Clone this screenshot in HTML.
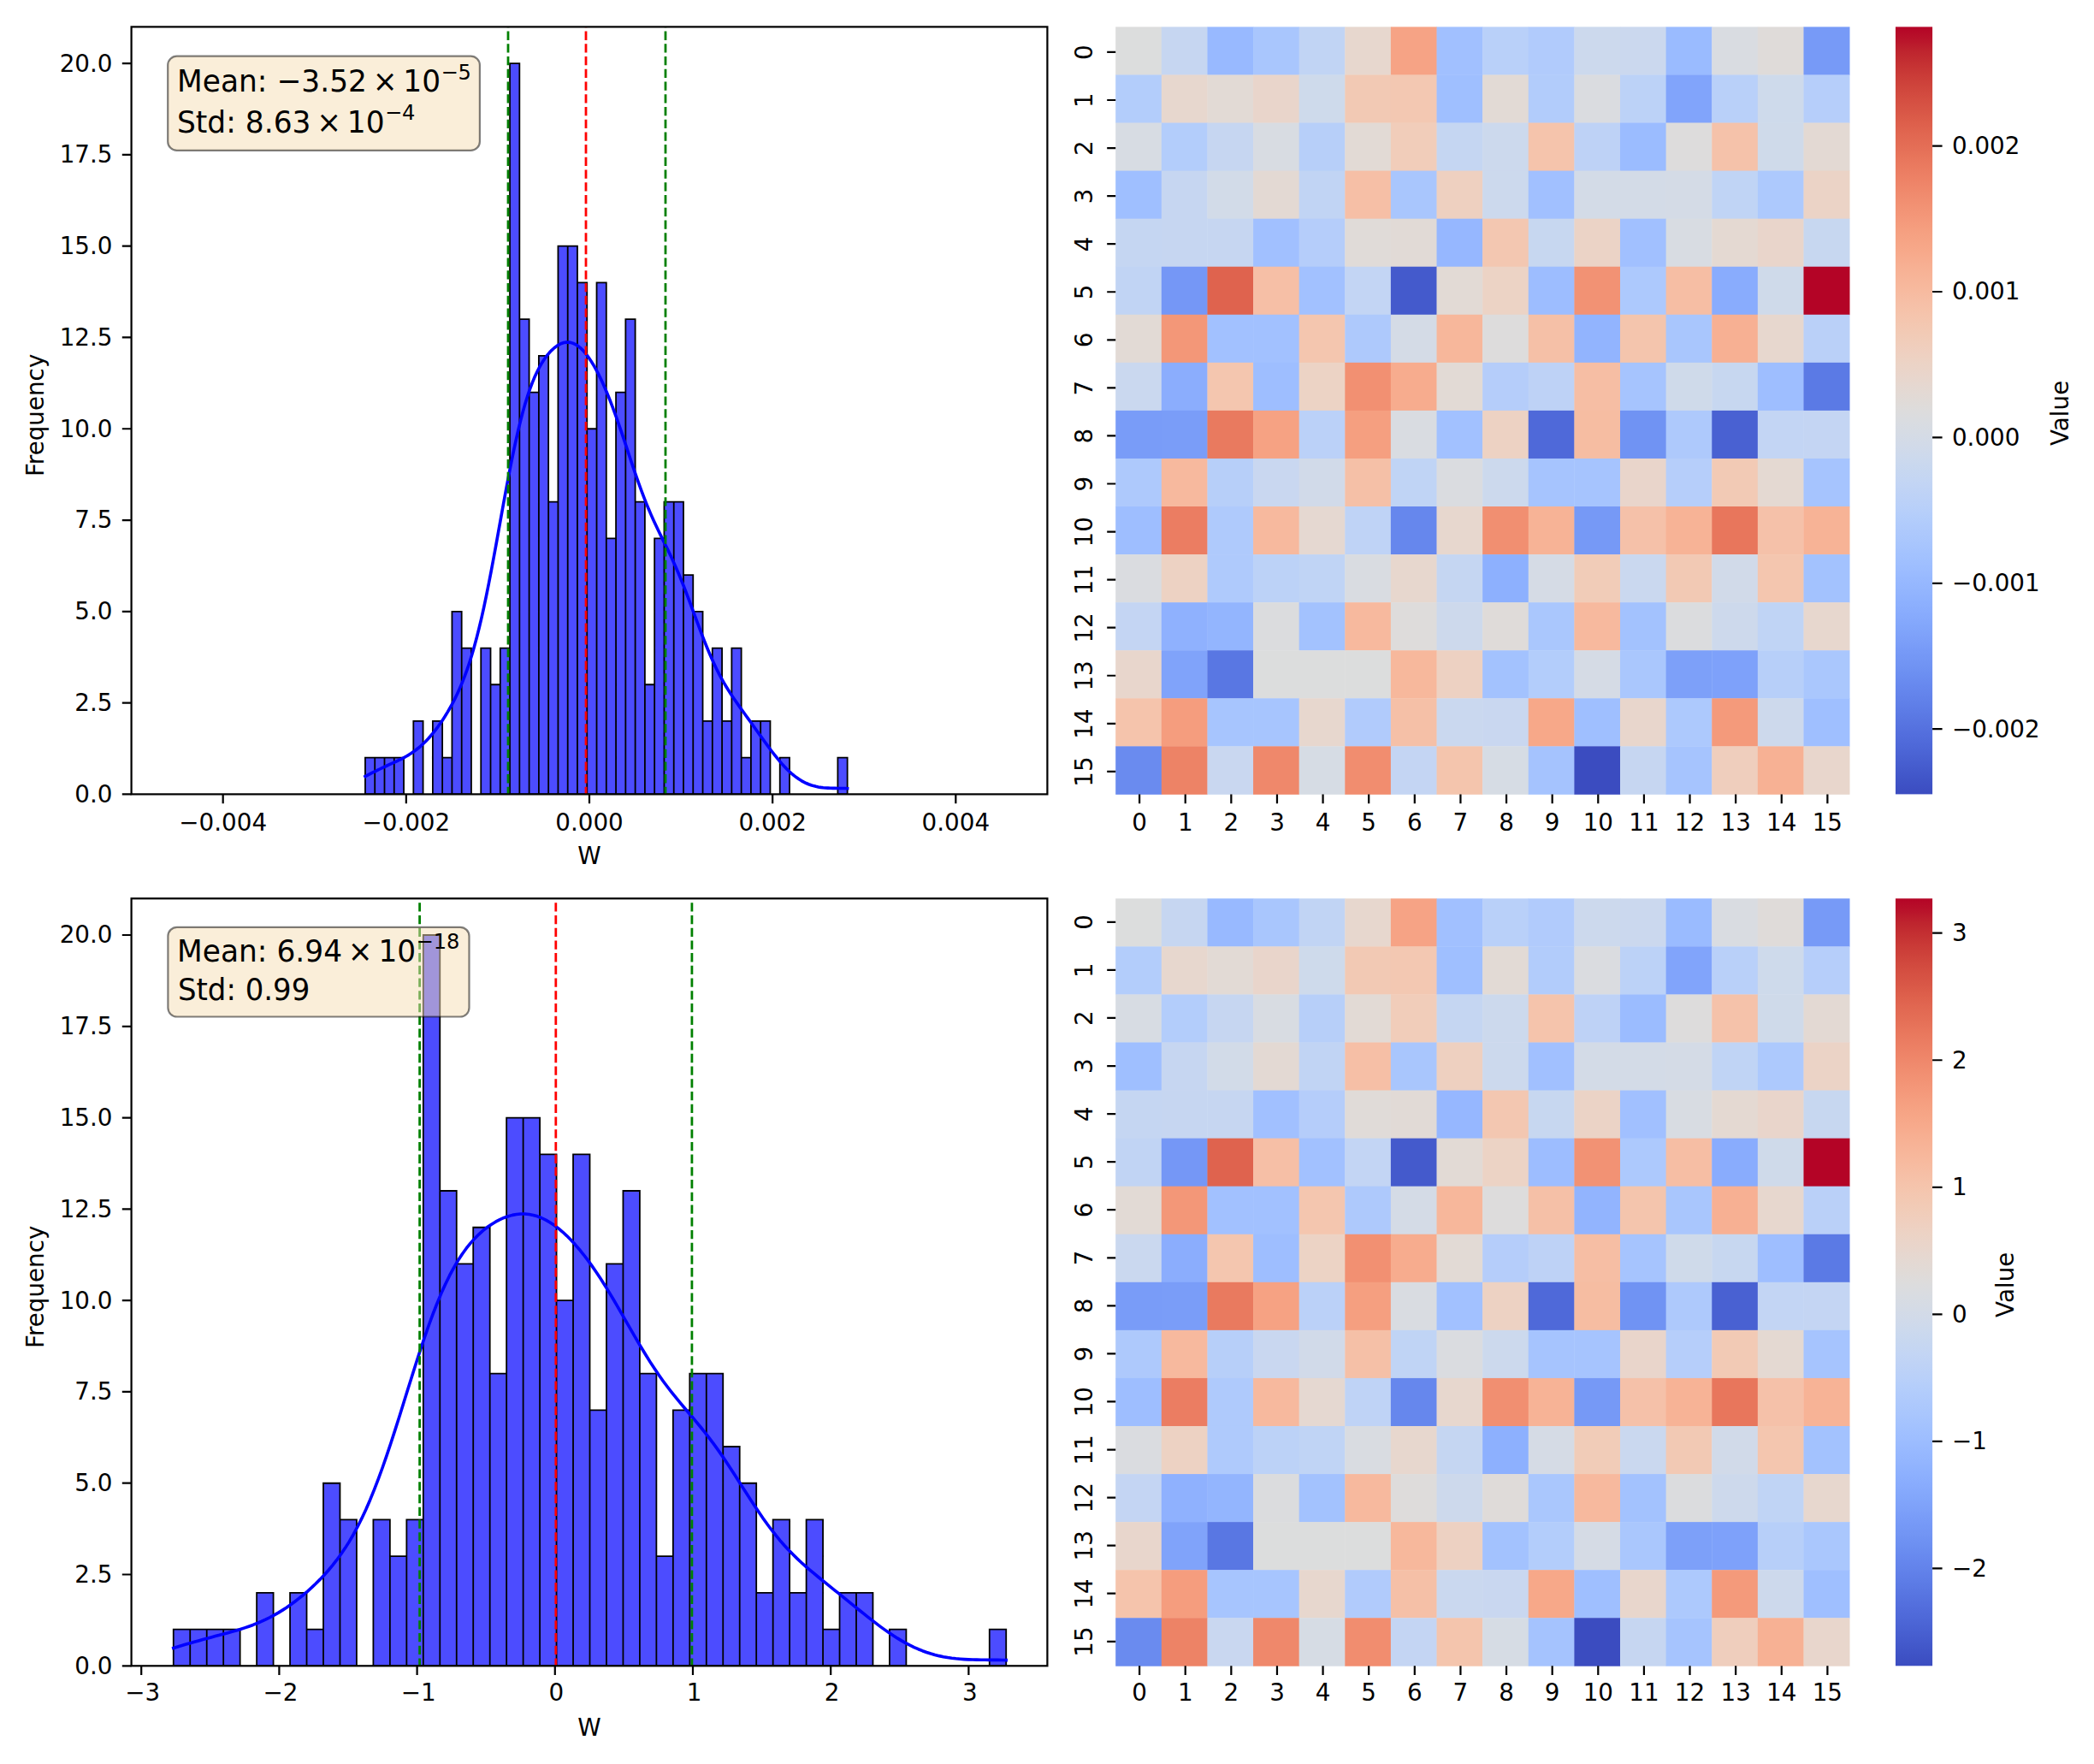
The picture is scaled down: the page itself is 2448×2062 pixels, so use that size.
<!DOCTYPE html>
<html><head><meta charset="utf-8"><title>W distribution</title><style>html,body{margin:0;padding:0;background:#fff;overflow:hidden}svg{display:block}</style></head><body>
<svg width="2448" height="2062" viewBox="0 0 2448 2062">
<style>text{font-family:'DejaVu Sans', sans-serif;fill:#000}</style>
<rect x="0" y="0" width="2448" height="2062" fill="#fff"/>
<defs><linearGradient id="cw" x1="0" y1="1" x2="0" y2="0"><stop offset="0.0000" stop-color="#3b4cc0"/><stop offset="0.0156" stop-color="#3f53c6"/><stop offset="0.0312" stop-color="#445acc"/><stop offset="0.0469" stop-color="#4961d2"/><stop offset="0.0625" stop-color="#4e68d8"/><stop offset="0.0781" stop-color="#536edd"/><stop offset="0.0938" stop-color="#5875e1"/><stop offset="0.1094" stop-color="#5d7ce6"/><stop offset="0.1250" stop-color="#6282ea"/><stop offset="0.1406" stop-color="#6788ee"/><stop offset="0.1562" stop-color="#6c8ff1"/><stop offset="0.1719" stop-color="#7295f4"/><stop offset="0.1875" stop-color="#779af7"/><stop offset="0.2031" stop-color="#7da0f9"/><stop offset="0.2188" stop-color="#82a6fb"/><stop offset="0.2344" stop-color="#88abfd"/><stop offset="0.2500" stop-color="#8db0fe"/><stop offset="0.2656" stop-color="#93b5fe"/><stop offset="0.2812" stop-color="#98b9ff"/><stop offset="0.2969" stop-color="#9ebeff"/><stop offset="0.3125" stop-color="#a3c2fe"/><stop offset="0.3281" stop-color="#a9c6fd"/><stop offset="0.3438" stop-color="#aec9fc"/><stop offset="0.3594" stop-color="#b3cdfb"/><stop offset="0.3750" stop-color="#b9d0f9"/><stop offset="0.3906" stop-color="#bed2f6"/><stop offset="0.4062" stop-color="#c3d5f4"/><stop offset="0.4219" stop-color="#c7d7f0"/><stop offset="0.4375" stop-color="#ccd9ed"/><stop offset="0.4531" stop-color="#d1dae9"/><stop offset="0.4688" stop-color="#d5dbe5"/><stop offset="0.4844" stop-color="#d9dce1"/><stop offset="0.5000" stop-color="#dddcdc"/><stop offset="0.5156" stop-color="#e1dad6"/><stop offset="0.5312" stop-color="#e5d8d1"/><stop offset="0.5469" stop-color="#e9d5cb"/><stop offset="0.5625" stop-color="#ecd3c5"/><stop offset="0.5781" stop-color="#efcfbf"/><stop offset="0.5938" stop-color="#f1ccb8"/><stop offset="0.6094" stop-color="#f3c8b2"/><stop offset="0.6250" stop-color="#f5c4ac"/><stop offset="0.6406" stop-color="#f6bfa6"/><stop offset="0.6562" stop-color="#f7ba9f"/><stop offset="0.6719" stop-color="#f7b599"/><stop offset="0.6875" stop-color="#f7b093"/><stop offset="0.7031" stop-color="#f7aa8c"/><stop offset="0.7188" stop-color="#f6a586"/><stop offset="0.7344" stop-color="#f59f80"/><stop offset="0.7500" stop-color="#f4987a"/><stop offset="0.7656" stop-color="#f29274"/><stop offset="0.7812" stop-color="#f08b6e"/><stop offset="0.7969" stop-color="#ee8468"/><stop offset="0.8125" stop-color="#eb7d62"/><stop offset="0.8281" stop-color="#e8765c"/><stop offset="0.8438" stop-color="#e46e56"/><stop offset="0.8594" stop-color="#e16751"/><stop offset="0.8750" stop-color="#dd5f4b"/><stop offset="0.8906" stop-color="#d85646"/><stop offset="0.9062" stop-color="#d44e41"/><stop offset="0.9219" stop-color="#cf453c"/><stop offset="0.9375" stop-color="#ca3b37"/><stop offset="0.9531" stop-color="#c43032"/><stop offset="0.9688" stop-color="#be242e"/><stop offset="0.9844" stop-color="#b8122a"/><stop offset="1.0000" stop-color="#b40426"/></linearGradient></defs>
<g id="hist0">
<clipPath id="clip0"><rect x="153.6" y="31.4" width="1070.8000000000002" height="897.0"/></clipPath>
<g clip-path="url(#clip0)">
<path d="M426.95 928.4V885.69H438.22V928.4ZM438.22 928.4V885.69H449.5V928.4ZM449.5 928.4V885.69H460.77V928.4ZM460.77 928.4V885.69H472.05V928.4ZM483.32 928.4V842.97H494.59V928.4ZM505.87 928.4V842.97H517.14V928.4ZM517.14 928.4V885.69H528.42V928.4ZM528.42 928.4V714.83H539.69V928.4ZM539.69 928.4V757.54H550.96V928.4ZM562.24 928.4V757.54H573.51V928.4ZM573.51 928.4V800.26H584.79V928.4ZM584.79 928.4V757.54H596.06V928.4ZM596.06 928.4V74.11H607.33V928.4ZM607.33 928.4V373.11H618.61V928.4ZM618.61 928.4V458.54H629.88V928.4ZM629.88 928.4V415.83H641.16V928.4ZM641.16 928.4V586.69H652.43V928.4ZM652.43 928.4V287.69H663.7V928.4ZM663.7 928.4V287.69H674.98V928.4ZM674.98 928.4V330.4H686.25V928.4ZM686.25 928.4V501.26H697.53V928.4ZM697.53 928.4V330.4H708.8V928.4ZM708.8 928.4V629.4H720.07V928.4ZM720.07 928.4V458.54H731.35V928.4ZM731.35 928.4V373.11H742.62V928.4ZM742.62 928.4V586.69H753.9V928.4ZM753.9 928.4V800.26H765.17V928.4ZM765.17 928.4V629.4H776.44V928.4ZM776.44 928.4V586.69H787.72V928.4ZM787.72 928.4V586.69H798.99V928.4ZM798.99 928.4V672.11H810.27V928.4ZM810.27 928.4V714.83H821.54V928.4ZM821.54 928.4V842.97H832.81V928.4ZM832.81 928.4V757.54H844.09V928.4ZM844.09 928.4V842.97H855.36V928.4ZM855.36 928.4V757.54H866.64V928.4ZM866.64 928.4V885.69H877.91V928.4ZM877.91 928.4V842.97H889.18V928.4ZM889.18 928.4V842.97H900.46V928.4ZM911.73 928.4V885.69H923.01V928.4ZM979.38 928.4V885.69H990.65V928.4Z" fill="#0000ff" fill-opacity="0.7" stroke="#000" stroke-width="1.8" stroke-linejoin="miter"/>
<polyline points="426.95,907.57 429.78,906.1 432.61,904.65 435.45,903.2 438.28,901.78 441.11,900.37 443.95,899 446.78,897.64 449.61,896.31 452.44,895.01 455.28,893.71 458.11,892.42 460.94,891.12 463.77,889.8 466.61,888.44 469.44,887.04 472.27,885.56 475.1,884 477.94,882.33 480.77,880.54 483.6,878.61 486.44,876.53 489.27,874.28 492.1,871.86 494.93,869.25 497.77,866.46 500.6,863.47 503.43,860.28 506.26,856.9 509.1,853.33 511.93,849.55 514.76,845.58 517.59,841.4 520.43,837 523.26,832.37 526.09,827.49 528.93,822.34 531.76,816.87 534.59,811.04 537.42,804.82 540.26,798.14 543.09,790.95 545.92,783.2 548.75,774.83 551.59,765.79 554.42,756.03 557.25,745.54 560.08,734.29 562.92,722.29 565.75,709.54 568.58,696.1 571.42,682.01 574.25,667.37 577.08,652.27 579.91,636.83 582.75,621.17 585.58,605.44 588.41,589.78 591.24,574.33 594.08,559.23 596.91,544.61 599.74,530.59 602.57,517.26 605.41,504.7 608.24,492.96 611.07,482.08 613.91,472.07 616.74,462.92 619.57,454.6 622.4,447.08 625.24,440.31 628.07,434.22 630.9,428.77 633.73,423.9 636.57,419.55 639.4,415.69 642.23,412.28 645.06,409.3 647.9,406.72 650.73,404.56 653.56,402.81 656.4,401.48 659.23,400.58 662.06,400.12 664.89,400.12 667.73,400.59 670.56,401.53 673.39,402.95 676.22,404.85 679.06,407.21 681.89,410.04 684.72,413.31 687.55,417.02 690.39,421.15 693.22,425.68 696.05,430.6 698.89,435.9 701.72,441.58 704.55,447.61 707.38,454 710.22,460.73 713.05,467.79 715.88,475.15 718.71,482.81 721.55,490.73 724.38,498.87 727.21,507.19 730.05,515.65 732.88,524.18 735.71,532.73 738.54,541.24 741.38,549.64 744.21,557.88 747.04,565.91 749.87,573.69 752.71,581.19 755.54,588.39 758.37,595.29 761.2,601.89 764.04,608.23 766.87,614.34 769.7,620.28 772.54,626.09 775.37,631.84 778.2,637.58 781.03,643.4 783.87,649.33 786.7,655.42 789.53,661.72 792.36,668.24 795.2,675 798.03,681.99 800.86,689.2 803.69,696.59 806.53,704.13 809.36,711.77 812.19,719.45 815.03,727.11 817.86,734.7 820.69,742.16 823.52,749.45 826.36,756.51 829.19,763.31 832.02,769.83 834.85,776.05 837.69,781.96 840.52,787.57 843.35,792.89 846.18,797.93 849.02,802.73 851.85,807.31 854.68,811.71 857.52,815.95 860.35,820.08 863.18,824.11 866.01,828.09 868.85,832.03 871.68,835.95 874.51,839.88 877.34,843.81 880.18,847.75 883.01,851.71 885.84,855.68 888.67,859.65 891.51,863.61 894.34,867.54 897.17,871.43 900.01,875.26 902.84,879.01 905.67,882.67 908.5,886.22 911.34,889.63 914.17,892.9 917,896.01 919.83,898.95 922.67,901.71 925.5,904.27 928.33,906.64 931.16,908.82 934,910.79 936.83,912.56 939.66,914.14 942.5,915.52 945.33,916.73 948.16,917.75 950.99,918.62 953.83,919.33 956.66,919.91 959.49,920.36 962.32,920.71 965.16,920.96 967.99,921.14 970.82,921.26 973.65,921.34 976.49,921.39 979.32,921.43 982.15,921.46 984.99,921.51 987.82,921.57 990.65,921.66" fill="none" stroke="#0000ff" stroke-width="3.6" stroke-linejoin="round" stroke-linecap="square"/>
<path d="M685 928.4V31.4" stroke="#ff0000" stroke-width="2.78" stroke-dasharray="10.28,4.44" stroke-dashoffset="1.7" fill="none"/>
<path d="M594 928.4V31.4" stroke="#008000" stroke-width="2.78" stroke-dasharray="10.28,4.44" stroke-dashoffset="1.7" fill="none"/>
<path d="M778 928.4V31.4" stroke="#008000" stroke-width="2.78" stroke-dasharray="10.28,4.44" stroke-dashoffset="1.7" fill="none"/>
</g>
<rect x="153.6" y="31.4" width="1070.8" height="897" fill="none" stroke="#000" stroke-width="2.22" stroke-linejoin="miter"/>
<text x="260.68" y="971.3" font-size="27.78" text-anchor="middle">−0.004</text>
<text x="474.84" y="971.3" font-size="27.78" text-anchor="middle">−0.002</text>
<text x="689" y="971.3" font-size="27.78" text-anchor="middle">0.000</text>
<text x="903.16" y="971.3" font-size="27.78" text-anchor="middle">0.002</text>
<text x="1117.32" y="971.3" font-size="27.78" text-anchor="middle">0.004</text>
<text x="131.5" y="937.8" font-size="27.78" text-anchor="end">0.0</text>
<text x="131.5" y="831.01" font-size="27.78" text-anchor="end">2.5</text>
<text x="131.5" y="724.23" font-size="27.78" text-anchor="end">5.0</text>
<text x="131.5" y="617.44" font-size="27.78" text-anchor="end">7.5</text>
<text x="131.5" y="510.66" font-size="27.78" text-anchor="end">10.0</text>
<text x="131.5" y="403.87" font-size="27.78" text-anchor="end">12.5</text>
<text x="131.5" y="297.09" font-size="27.78" text-anchor="end">15.0</text>
<text x="131.5" y="190.3" font-size="27.78" text-anchor="end">17.5</text>
<text x="131.5" y="83.51" font-size="27.78" text-anchor="end">20.0</text>
<path d="M260.68 928.4v10.80M474.84 928.4v10.80M689 928.4v10.80M903.16 928.4v10.80M1117.32 928.4v10.80M153.6 928.4h-10.80M153.6 821.61h-10.80M153.6 714.83h-10.80M153.6 608.04h-10.80M153.6 501.26h-10.80M153.6 394.47h-10.80M153.6 287.69h-10.80M153.6 180.9h-10.80M153.6 74.11h-10.80" stroke="#000" stroke-width="2.22" fill="none"/>
<text x="689" y="1010.4" font-size="27.78" text-anchor="middle">W</text>
<text transform="translate(51.2 485.4) rotate(-90)" font-size="27.78" text-anchor="middle">Frequency</text>
</g>
<g id="heat0">
<rect x="1304.2" y="31.4" width="54.02" height="56.46" fill="#dcdddd"/>
<rect x="1357.82" y="31.4" width="54.02" height="56.46" fill="#c6d6f1"/>
<rect x="1411.44" y="31.4" width="54.02" height="56.46" fill="#98b9ff"/>
<rect x="1465.06" y="31.4" width="54.02" height="56.46" fill="#a9c6fd"/>
<rect x="1518.67" y="31.4" width="54.02" height="56.46" fill="#c1d4f4"/>
<rect x="1572.29" y="31.4" width="54.02" height="56.46" fill="#e7d7ce"/>
<rect x="1625.91" y="31.4" width="54.02" height="56.46" fill="#f6a385"/>
<rect x="1679.53" y="31.4" width="54.02" height="56.46" fill="#a1c0ff"/>
<rect x="1733.15" y="31.4" width="54.02" height="56.46" fill="#b9d0f9"/>
<rect x="1786.77" y="31.4" width="54.02" height="56.46" fill="#b1cbfc"/>
<rect x="1840.39" y="31.4" width="54.02" height="56.46" fill="#ccd9ed"/>
<rect x="1894.01" y="31.4" width="54.02" height="56.46" fill="#cbd8ee"/>
<rect x="1947.62" y="31.4" width="54.02" height="56.46" fill="#9abbff"/>
<rect x="2001.24" y="31.4" width="54.02" height="56.46" fill="#d9dce1"/>
<rect x="2054.86" y="31.4" width="54.02" height="56.46" fill="#dfdbd9"/>
<rect x="2108.48" y="31.4" width="54.02" height="56.46" fill="#779af7"/>
<rect x="1304.2" y="87.46" width="54.02" height="56.46" fill="#b3cdfb"/>
<rect x="1357.82" y="87.46" width="54.02" height="56.46" fill="#e7d7ce"/>
<rect x="1411.44" y="87.46" width="54.02" height="56.46" fill="#e2dad5"/>
<rect x="1465.06" y="87.46" width="54.02" height="56.46" fill="#e9d5cb"/>
<rect x="1518.67" y="87.46" width="54.02" height="56.46" fill="#cedaeb"/>
<rect x="1572.29" y="87.46" width="54.02" height="56.46" fill="#f2c9b4"/>
<rect x="1625.91" y="87.46" width="54.02" height="56.46" fill="#f3c8b2"/>
<rect x="1679.53" y="87.46" width="54.02" height="56.46" fill="#9fbfff"/>
<rect x="1733.15" y="87.46" width="54.02" height="56.46" fill="#e2dad5"/>
<rect x="1786.77" y="87.46" width="54.02" height="56.46" fill="#b2ccfb"/>
<rect x="1840.39" y="87.46" width="54.02" height="56.46" fill="#dadce0"/>
<rect x="1894.01" y="87.46" width="54.02" height="56.46" fill="#bcd2f7"/>
<rect x="1947.62" y="87.46" width="54.02" height="56.46" fill="#81a4fb"/>
<rect x="2001.24" y="87.46" width="54.02" height="56.46" fill="#b9d0f9"/>
<rect x="2054.86" y="87.46" width="54.02" height="56.46" fill="#cedaeb"/>
<rect x="2108.48" y="87.46" width="54.02" height="56.46" fill="#b6cefa"/>
<rect x="1304.2" y="143.53" width="54.02" height="56.46" fill="#d7dce3"/>
<rect x="1357.82" y="143.53" width="54.02" height="56.46" fill="#b3cdfb"/>
<rect x="1411.44" y="143.53" width="54.02" height="56.46" fill="#c6d6f1"/>
<rect x="1465.06" y="143.53" width="54.02" height="56.46" fill="#d8dce2"/>
<rect x="1518.67" y="143.53" width="54.02" height="56.46" fill="#b7cff9"/>
<rect x="1572.29" y="143.53" width="54.02" height="56.46" fill="#e2dad5"/>
<rect x="1625.91" y="143.53" width="54.02" height="56.46" fill="#f1cdba"/>
<rect x="1679.53" y="143.53" width="54.02" height="56.46" fill="#c5d6f2"/>
<rect x="1733.15" y="143.53" width="54.02" height="56.46" fill="#ccd9ed"/>
<rect x="1786.77" y="143.53" width="54.02" height="56.46" fill="#f5c4ac"/>
<rect x="1840.39" y="143.53" width="54.02" height="56.46" fill="#bed2f6"/>
<rect x="1894.01" y="143.53" width="54.02" height="56.46" fill="#9bbcff"/>
<rect x="1947.62" y="143.53" width="54.02" height="56.46" fill="#dddcdc"/>
<rect x="2001.24" y="143.53" width="54.02" height="56.46" fill="#f5c2aa"/>
<rect x="2054.86" y="143.53" width="54.02" height="56.46" fill="#cfdaea"/>
<rect x="2108.48" y="143.53" width="54.02" height="56.46" fill="#e3d9d3"/>
<rect x="1304.2" y="199.59" width="54.02" height="56.46" fill="#9fbfff"/>
<rect x="1357.82" y="199.59" width="54.02" height="56.46" fill="#c6d6f1"/>
<rect x="1411.44" y="199.59" width="54.02" height="56.46" fill="#d2dbe8"/>
<rect x="1465.06" y="199.59" width="54.02" height="56.46" fill="#e3d9d3"/>
<rect x="1518.67" y="199.59" width="54.02" height="56.46" fill="#c1d4f4"/>
<rect x="1572.29" y="199.59" width="54.02" height="56.46" fill="#f6bfa6"/>
<rect x="1625.91" y="199.59" width="54.02" height="56.46" fill="#a9c6fd"/>
<rect x="1679.53" y="199.59" width="54.02" height="56.46" fill="#eed0c0"/>
<rect x="1733.15" y="199.59" width="54.02" height="56.46" fill="#ccd9ed"/>
<rect x="1786.77" y="199.59" width="54.02" height="56.46" fill="#a1c0ff"/>
<rect x="1840.39" y="199.59" width="54.02" height="56.46" fill="#d3dbe7"/>
<rect x="1894.01" y="199.59" width="54.02" height="56.46" fill="#d3dbe7"/>
<rect x="1947.62" y="199.59" width="54.02" height="56.46" fill="#d4dbe6"/>
<rect x="2001.24" y="199.59" width="54.02" height="56.46" fill="#c0d4f5"/>
<rect x="2054.86" y="199.59" width="54.02" height="56.46" fill="#adc9fd"/>
<rect x="2108.48" y="199.59" width="54.02" height="56.46" fill="#ebd3c6"/>
<rect x="1304.2" y="255.65" width="54.02" height="56.46" fill="#c5d6f2"/>
<rect x="1357.82" y="255.65" width="54.02" height="56.46" fill="#c6d6f1"/>
<rect x="1411.44" y="255.65" width="54.02" height="56.46" fill="#c6d6f1"/>
<rect x="1465.06" y="255.65" width="54.02" height="56.46" fill="#a1c0ff"/>
<rect x="1518.67" y="255.65" width="54.02" height="56.46" fill="#b5cdfa"/>
<rect x="1572.29" y="255.65" width="54.02" height="56.46" fill="#e0dbd8"/>
<rect x="1625.91" y="255.65" width="54.02" height="56.46" fill="#e1dad6"/>
<rect x="1679.53" y="255.65" width="54.02" height="56.46" fill="#96b7ff"/>
<rect x="1733.15" y="255.65" width="54.02" height="56.46" fill="#f3c7b1"/>
<rect x="1786.77" y="255.65" width="54.02" height="56.46" fill="#c7d7f0"/>
<rect x="1840.39" y="255.65" width="54.02" height="56.46" fill="#ebd3c6"/>
<rect x="1894.01" y="255.65" width="54.02" height="56.46" fill="#a1c0ff"/>
<rect x="1947.62" y="255.65" width="54.02" height="56.46" fill="#d8dce2"/>
<rect x="2001.24" y="255.65" width="54.02" height="56.46" fill="#e4d9d2"/>
<rect x="2054.86" y="255.65" width="54.02" height="56.46" fill="#e9d5cb"/>
<rect x="2108.48" y="255.65" width="54.02" height="56.46" fill="#c7d7f0"/>
<rect x="1304.2" y="311.71" width="54.02" height="56.46" fill="#c1d4f4"/>
<rect x="1357.82" y="311.71" width="54.02" height="56.46" fill="#7597f6"/>
<rect x="1411.44" y="311.71" width="54.02" height="56.46" fill="#df634e"/>
<rect x="1465.06" y="311.71" width="54.02" height="56.46" fill="#f6bfa6"/>
<rect x="1518.67" y="311.71" width="54.02" height="56.46" fill="#a2c1ff"/>
<rect x="1572.29" y="311.71" width="54.02" height="56.46" fill="#c3d5f4"/>
<rect x="1625.91" y="311.71" width="54.02" height="56.46" fill="#445acc"/>
<rect x="1679.53" y="311.71" width="54.02" height="56.46" fill="#e2dad5"/>
<rect x="1733.15" y="311.71" width="54.02" height="56.46" fill="#ecd3c5"/>
<rect x="1786.77" y="311.71" width="54.02" height="56.46" fill="#9dbdff"/>
<rect x="1840.39" y="311.71" width="54.02" height="56.46" fill="#f29274"/>
<rect x="1894.01" y="311.71" width="54.02" height="56.46" fill="#adc9fd"/>
<rect x="1947.62" y="311.71" width="54.02" height="56.46" fill="#f6bea4"/>
<rect x="2001.24" y="311.71" width="54.02" height="56.46" fill="#89acfd"/>
<rect x="2054.86" y="311.71" width="54.02" height="56.46" fill="#cfdaea"/>
<rect x="2108.48" y="311.71" width="54.02" height="56.46" fill="#b40426"/>
<rect x="1304.2" y="367.77" width="54.02" height="56.46" fill="#e2dad5"/>
<rect x="1357.82" y="367.77" width="54.02" height="56.46" fill="#f39778"/>
<rect x="1411.44" y="367.77" width="54.02" height="56.46" fill="#a2c1ff"/>
<rect x="1465.06" y="367.77" width="54.02" height="56.46" fill="#a2c1ff"/>
<rect x="1518.67" y="367.77" width="54.02" height="56.46" fill="#f4c6af"/>
<rect x="1572.29" y="367.77" width="54.02" height="56.46" fill="#aec9fc"/>
<rect x="1625.91" y="367.77" width="54.02" height="56.46" fill="#d4dbe6"/>
<rect x="1679.53" y="367.77" width="54.02" height="56.46" fill="#f7b79b"/>
<rect x="1733.15" y="367.77" width="54.02" height="56.46" fill="#dddcdc"/>
<rect x="1786.77" y="367.77" width="54.02" height="56.46" fill="#f5c0a7"/>
<rect x="1840.39" y="367.77" width="54.02" height="56.46" fill="#92b4fe"/>
<rect x="1894.01" y="367.77" width="54.02" height="56.46" fill="#f4c5ad"/>
<rect x="1947.62" y="367.77" width="54.02" height="56.46" fill="#a9c6fd"/>
<rect x="2001.24" y="367.77" width="54.02" height="56.46" fill="#f7b093"/>
<rect x="2054.86" y="367.77" width="54.02" height="56.46" fill="#e7d7ce"/>
<rect x="2108.48" y="367.77" width="54.02" height="56.46" fill="#bad0f8"/>
<rect x="1304.2" y="423.84" width="54.02" height="56.46" fill="#cad8ef"/>
<rect x="1357.82" y="423.84" width="54.02" height="56.46" fill="#8badfd"/>
<rect x="1411.44" y="423.84" width="54.02" height="56.46" fill="#f4c6af"/>
<rect x="1465.06" y="423.84" width="54.02" height="56.46" fill="#9ebeff"/>
<rect x="1518.67" y="423.84" width="54.02" height="56.46" fill="#ecd3c5"/>
<rect x="1572.29" y="423.84" width="54.02" height="56.46" fill="#f29072"/>
<rect x="1625.91" y="423.84" width="54.02" height="56.46" fill="#f7ac8e"/>
<rect x="1679.53" y="423.84" width="54.02" height="56.46" fill="#e2dad5"/>
<rect x="1733.15" y="423.84" width="54.02" height="56.46" fill="#b5cdfa"/>
<rect x="1786.77" y="423.84" width="54.02" height="56.46" fill="#bed2f6"/>
<rect x="1840.39" y="423.84" width="54.02" height="56.46" fill="#f6bea4"/>
<rect x="1894.01" y="423.84" width="54.02" height="56.46" fill="#a6c4fe"/>
<rect x="1947.62" y="423.84" width="54.02" height="56.46" fill="#cfdaea"/>
<rect x="2001.24" y="423.84" width="54.02" height="56.46" fill="#c7d7f0"/>
<rect x="2054.86" y="423.84" width="54.02" height="56.46" fill="#9ebeff"/>
<rect x="2108.48" y="423.84" width="54.02" height="56.46" fill="#5b7ae5"/>
<rect x="1304.2" y="479.9" width="54.02" height="56.46" fill="#799cf8"/>
<rect x="1357.82" y="479.9" width="54.02" height="56.46" fill="#7a9df8"/>
<rect x="1411.44" y="479.9" width="54.02" height="56.46" fill="#e97a5f"/>
<rect x="1465.06" y="479.9" width="54.02" height="56.46" fill="#f6a283"/>
<rect x="1518.67" y="479.9" width="54.02" height="56.46" fill="#bbd1f8"/>
<rect x="1572.29" y="479.9" width="54.02" height="56.46" fill="#f59f80"/>
<rect x="1625.91" y="479.9" width="54.02" height="56.46" fill="#d9dce1"/>
<rect x="1679.53" y="479.9" width="54.02" height="56.46" fill="#a2c1ff"/>
<rect x="1733.15" y="479.9" width="54.02" height="56.46" fill="#edd2c3"/>
<rect x="1786.77" y="479.9" width="54.02" height="56.46" fill="#4f69d9"/>
<rect x="1840.39" y="479.9" width="54.02" height="56.46" fill="#f6bda2"/>
<rect x="1894.01" y="479.9" width="54.02" height="56.46" fill="#7093f3"/>
<rect x="1947.62" y="479.9" width="54.02" height="56.46" fill="#aec9fc"/>
<rect x="2001.24" y="479.9" width="54.02" height="56.46" fill="#4961d2"/>
<rect x="2054.86" y="479.9" width="54.02" height="56.46" fill="#c3d5f4"/>
<rect x="2108.48" y="479.9" width="54.02" height="56.46" fill="#c4d5f3"/>
<rect x="1304.2" y="535.96" width="54.02" height="56.46" fill="#aec9fc"/>
<rect x="1357.82" y="535.96" width="54.02" height="56.46" fill="#f7b99e"/>
<rect x="1411.44" y="535.96" width="54.02" height="56.46" fill="#b7cff9"/>
<rect x="1465.06" y="535.96" width="54.02" height="56.46" fill="#c9d7f0"/>
<rect x="1518.67" y="535.96" width="54.02" height="56.46" fill="#d1dae9"/>
<rect x="1572.29" y="535.96" width="54.02" height="56.46" fill="#f5c0a7"/>
<rect x="1625.91" y="535.96" width="54.02" height="56.46" fill="#c0d4f5"/>
<rect x="1679.53" y="535.96" width="54.02" height="56.46" fill="#dadce0"/>
<rect x="1733.15" y="535.96" width="54.02" height="56.46" fill="#ccd9ed"/>
<rect x="1786.77" y="535.96" width="54.02" height="56.46" fill="#a6c4fe"/>
<rect x="1840.39" y="535.96" width="54.02" height="56.46" fill="#a6c4fe"/>
<rect x="1894.01" y="535.96" width="54.02" height="56.46" fill="#e9d5cb"/>
<rect x="1947.62" y="535.96" width="54.02" height="56.46" fill="#b6cefa"/>
<rect x="2001.24" y="535.96" width="54.02" height="56.46" fill="#f2cab5"/>
<rect x="2054.86" y="535.96" width="54.02" height="56.46" fill="#e4d9d2"/>
<rect x="2108.48" y="535.96" width="54.02" height="56.46" fill="#a6c4fe"/>
<rect x="1304.2" y="592.02" width="54.02" height="56.46" fill="#9ebeff"/>
<rect x="1357.82" y="592.02" width="54.02" height="56.46" fill="#eb7d62"/>
<rect x="1411.44" y="592.02" width="54.02" height="56.46" fill="#afcafc"/>
<rect x="1465.06" y="592.02" width="54.02" height="56.46" fill="#f7b99e"/>
<rect x="1518.67" y="592.02" width="54.02" height="56.46" fill="#e5d8d1"/>
<rect x="1572.29" y="592.02" width="54.02" height="56.46" fill="#bfd3f6"/>
<rect x="1625.91" y="592.02" width="54.02" height="56.46" fill="#6687ed"/>
<rect x="1679.53" y="592.02" width="54.02" height="56.46" fill="#e7d7ce"/>
<rect x="1733.15" y="592.02" width="54.02" height="56.46" fill="#f18f71"/>
<rect x="1786.77" y="592.02" width="54.02" height="56.46" fill="#f7b396"/>
<rect x="1840.39" y="592.02" width="54.02" height="56.46" fill="#7699f6"/>
<rect x="1894.01" y="592.02" width="54.02" height="56.46" fill="#f5c1a9"/>
<rect x="1947.62" y="592.02" width="54.02" height="56.46" fill="#f7b396"/>
<rect x="2001.24" y="592.02" width="54.02" height="56.46" fill="#e8765c"/>
<rect x="2054.86" y="592.02" width="54.02" height="56.46" fill="#f5c1a9"/>
<rect x="2108.48" y="592.02" width="54.02" height="56.46" fill="#f7b396"/>
<rect x="1304.2" y="648.09" width="54.02" height="56.46" fill="#dadce0"/>
<rect x="1357.82" y="648.09" width="54.02" height="56.46" fill="#edd2c3"/>
<rect x="1411.44" y="648.09" width="54.02" height="56.46" fill="#afcafc"/>
<rect x="1465.06" y="648.09" width="54.02" height="56.46" fill="#bcd2f7"/>
<rect x="1518.67" y="648.09" width="54.02" height="56.46" fill="#c0d4f5"/>
<rect x="1572.29" y="648.09" width="54.02" height="56.46" fill="#d9dce1"/>
<rect x="1625.91" y="648.09" width="54.02" height="56.46" fill="#e7d7ce"/>
<rect x="1679.53" y="648.09" width="54.02" height="56.46" fill="#c5d6f2"/>
<rect x="1733.15" y="648.09" width="54.02" height="56.46" fill="#8db0fe"/>
<rect x="1786.77" y="648.09" width="54.02" height="56.46" fill="#d5dbe5"/>
<rect x="1840.39" y="648.09" width="54.02" height="56.46" fill="#f1ccb8"/>
<rect x="1894.01" y="648.09" width="54.02" height="56.46" fill="#cad8ef"/>
<rect x="1947.62" y="648.09" width="54.02" height="56.46" fill="#f2c9b4"/>
<rect x="2001.24" y="648.09" width="54.02" height="56.46" fill="#d1dae9"/>
<rect x="2054.86" y="648.09" width="54.02" height="56.46" fill="#f4c6af"/>
<rect x="2108.48" y="648.09" width="54.02" height="56.46" fill="#a3c2fe"/>
<rect x="1304.2" y="704.15" width="54.02" height="56.46" fill="#c4d5f3"/>
<rect x="1357.82" y="704.15" width="54.02" height="56.46" fill="#8fb1fe"/>
<rect x="1411.44" y="704.15" width="54.02" height="56.46" fill="#93b5fe"/>
<rect x="1465.06" y="704.15" width="54.02" height="56.46" fill="#dbdcde"/>
<rect x="1518.67" y="704.15" width="54.02" height="56.46" fill="#a3c2fe"/>
<rect x="1572.29" y="704.15" width="54.02" height="56.46" fill="#f7b99e"/>
<rect x="1625.91" y="704.15" width="54.02" height="56.46" fill="#dedcdb"/>
<rect x="1679.53" y="704.15" width="54.02" height="56.46" fill="#cdd9ec"/>
<rect x="1733.15" y="704.15" width="54.02" height="56.46" fill="#dfdbd9"/>
<rect x="1786.77" y="704.15" width="54.02" height="56.46" fill="#aac7fd"/>
<rect x="1840.39" y="704.15" width="54.02" height="56.46" fill="#f7b99e"/>
<rect x="1894.01" y="704.15" width="54.02" height="56.46" fill="#a3c2fe"/>
<rect x="1947.62" y="704.15" width="54.02" height="56.46" fill="#dbdcde"/>
<rect x="2001.24" y="704.15" width="54.02" height="56.46" fill="#cdd9ec"/>
<rect x="2054.86" y="704.15" width="54.02" height="56.46" fill="#c0d4f5"/>
<rect x="2108.48" y="704.15" width="54.02" height="56.46" fill="#e7d7ce"/>
<rect x="1304.2" y="760.21" width="54.02" height="56.46" fill="#e8d6cc"/>
<rect x="1357.82" y="760.21" width="54.02" height="56.46" fill="#80a3fa"/>
<rect x="1411.44" y="760.21" width="54.02" height="56.46" fill="#5977e3"/>
<rect x="1465.06" y="760.21" width="54.02" height="56.46" fill="#dcdddd"/>
<rect x="1518.67" y="760.21" width="54.02" height="56.46" fill="#dcdddd"/>
<rect x="1572.29" y="760.21" width="54.02" height="56.46" fill="#dcdddd"/>
<rect x="1625.91" y="760.21" width="54.02" height="56.46" fill="#f7b89c"/>
<rect x="1679.53" y="760.21" width="54.02" height="56.46" fill="#edd1c2"/>
<rect x="1733.15" y="760.21" width="54.02" height="56.46" fill="#a3c2fe"/>
<rect x="1786.77" y="760.21" width="54.02" height="56.46" fill="#b3cdfb"/>
<rect x="1840.39" y="760.21" width="54.02" height="56.46" fill="#d5dbe5"/>
<rect x="1894.01" y="760.21" width="54.02" height="56.46" fill="#aac7fd"/>
<rect x="1947.62" y="760.21" width="54.02" height="56.46" fill="#7da0f9"/>
<rect x="2001.24" y="760.21" width="54.02" height="56.46" fill="#7ea1fa"/>
<rect x="2054.86" y="760.21" width="54.02" height="56.46" fill="#b7cff9"/>
<rect x="2108.48" y="760.21" width="54.02" height="56.46" fill="#aac7fd"/>
<rect x="1304.2" y="816.27" width="54.02" height="56.46" fill="#f5c4ac"/>
<rect x="1357.82" y="816.27" width="54.02" height="56.46" fill="#f59d7e"/>
<rect x="1411.44" y="816.27" width="54.02" height="56.46" fill="#a7c5fe"/>
<rect x="1465.06" y="816.27" width="54.02" height="56.46" fill="#a7c5fe"/>
<rect x="1518.67" y="816.27" width="54.02" height="56.46" fill="#e7d7ce"/>
<rect x="1572.29" y="816.27" width="54.02" height="56.46" fill="#b1cbfc"/>
<rect x="1625.91" y="816.27" width="54.02" height="56.46" fill="#f5c0a7"/>
<rect x="1679.53" y="816.27" width="54.02" height="56.46" fill="#cad8ef"/>
<rect x="1733.15" y="816.27" width="54.02" height="56.46" fill="#c9d7f0"/>
<rect x="1786.77" y="816.27" width="54.02" height="56.46" fill="#f7a889"/>
<rect x="1840.39" y="816.27" width="54.02" height="56.46" fill="#9fbfff"/>
<rect x="1894.01" y="816.27" width="54.02" height="56.46" fill="#e8d6cc"/>
<rect x="1947.62" y="816.27" width="54.02" height="56.46" fill="#adc9fd"/>
<rect x="2001.24" y="816.27" width="54.02" height="56.46" fill="#f49a7b"/>
<rect x="2054.86" y="816.27" width="54.02" height="56.46" fill="#cdd9ec"/>
<rect x="2108.48" y="816.27" width="54.02" height="56.46" fill="#9fbfff"/>
<rect x="1304.2" y="872.34" width="54.02" height="56.46" fill="#6a8bef"/>
<rect x="1357.82" y="872.34" width="54.02" height="56.46" fill="#ed8366"/>
<rect x="1411.44" y="872.34" width="54.02" height="56.46" fill="#c9d7f0"/>
<rect x="1465.06" y="872.34" width="54.02" height="56.46" fill="#ef886b"/>
<rect x="1518.67" y="872.34" width="54.02" height="56.46" fill="#d6dce4"/>
<rect x="1572.29" y="872.34" width="54.02" height="56.46" fill="#f18d6f"/>
<rect x="1625.91" y="872.34" width="54.02" height="56.46" fill="#c4d5f3"/>
<rect x="1679.53" y="872.34" width="54.02" height="56.46" fill="#f4c5ad"/>
<rect x="1733.15" y="872.34" width="54.02" height="56.46" fill="#d6dce4"/>
<rect x="1786.77" y="872.34" width="54.02" height="56.46" fill="#a5c3fe"/>
<rect x="1840.39" y="872.34" width="54.02" height="56.46" fill="#3b4cc0"/>
<rect x="1894.01" y="872.34" width="54.02" height="56.46" fill="#c6d6f1"/>
<rect x="1947.62" y="872.34" width="54.02" height="56.46" fill="#a6c4fe"/>
<rect x="2001.24" y="872.34" width="54.02" height="56.46" fill="#efcebd"/>
<rect x="2054.86" y="872.34" width="54.02" height="56.46" fill="#f7b194"/>
<rect x="2108.48" y="872.34" width="54.02" height="56.46" fill="#e8d6cc"/>
<text x="1332.11" y="971.3" font-size="27.78" text-anchor="middle">0</text>
<text x="1385.73" y="971.3" font-size="27.78" text-anchor="middle">1</text>
<text x="1439.35" y="971.3" font-size="27.78" text-anchor="middle">2</text>
<text x="1492.97" y="971.3" font-size="27.78" text-anchor="middle">3</text>
<text x="1546.58" y="971.3" font-size="27.78" text-anchor="middle">4</text>
<text x="1600.2" y="971.3" font-size="27.78" text-anchor="middle">5</text>
<text x="1653.82" y="971.3" font-size="27.78" text-anchor="middle">6</text>
<text x="1707.44" y="971.3" font-size="27.78" text-anchor="middle">7</text>
<text x="1761.06" y="971.3" font-size="27.78" text-anchor="middle">8</text>
<text x="1814.68" y="971.3" font-size="27.78" text-anchor="middle">9</text>
<text x="1868.3" y="971.3" font-size="27.78" text-anchor="middle">10</text>
<text x="1921.92" y="971.3" font-size="27.78" text-anchor="middle">11</text>
<text x="1975.53" y="971.3" font-size="27.78" text-anchor="middle">12</text>
<text x="2029.15" y="971.3" font-size="27.78" text-anchor="middle">13</text>
<text x="2082.77" y="971.3" font-size="27.78" text-anchor="middle">14</text>
<text x="2136.39" y="971.3" font-size="27.78" text-anchor="middle">15</text>
<text transform="translate(1277.4 61.13) rotate(-90)" font-size="27.78" text-anchor="middle">0</text>
<text transform="translate(1277.4 117.19) rotate(-90)" font-size="27.78" text-anchor="middle">1</text>
<text transform="translate(1277.4 173.26) rotate(-90)" font-size="27.78" text-anchor="middle">2</text>
<text transform="translate(1277.4 229.32) rotate(-90)" font-size="27.78" text-anchor="middle">3</text>
<text transform="translate(1277.4 285.38) rotate(-90)" font-size="27.78" text-anchor="middle">4</text>
<text transform="translate(1277.4 341.44) rotate(-90)" font-size="27.78" text-anchor="middle">5</text>
<text transform="translate(1277.4 397.51) rotate(-90)" font-size="27.78" text-anchor="middle">6</text>
<text transform="translate(1277.4 453.57) rotate(-90)" font-size="27.78" text-anchor="middle">7</text>
<text transform="translate(1277.4 509.63) rotate(-90)" font-size="27.78" text-anchor="middle">8</text>
<text transform="translate(1277.4 565.69) rotate(-90)" font-size="27.78" text-anchor="middle">9</text>
<text transform="translate(1277.4 621.76) rotate(-90)" font-size="27.78" text-anchor="middle">10</text>
<text transform="translate(1277.4 677.82) rotate(-90)" font-size="27.78" text-anchor="middle">11</text>
<text transform="translate(1277.4 733.88) rotate(-90)" font-size="27.78" text-anchor="middle">12</text>
<text transform="translate(1277.4 789.94) rotate(-90)" font-size="27.78" text-anchor="middle">13</text>
<text transform="translate(1277.4 846.01) rotate(-90)" font-size="27.78" text-anchor="middle">14</text>
<text transform="translate(1277.4 902.07) rotate(-90)" font-size="27.78" text-anchor="middle">15</text>
<path d="M1332.11 928.4v10.80M1385.73 928.4v10.80M1439.35 928.4v10.80M1492.97 928.4v10.80M1546.58 928.4v10.80M1600.2 928.4v10.80M1653.82 928.4v10.80M1707.44 928.4v10.80M1761.06 928.4v10.80M1814.68 928.4v10.80M1868.3 928.4v10.80M1921.92 928.4v10.80M1975.53 928.4v10.80M2029.15 928.4v10.80M2082.77 928.4v10.80M2136.39 928.4v10.80M1304.2 60.93h-10.00M1304.2 116.99h-10.00M1304.2 173.06h-10.00M1304.2 229.12h-10.00M1304.2 285.18h-10.00M1304.2 341.24h-10.00M1304.2 397.31h-10.00M1304.2 453.37h-10.00M1304.2 509.43h-10.00M1304.2 565.49h-10.00M1304.2 621.56h-10.00M1304.2 677.62h-10.00M1304.2 733.68h-10.00M1304.2 789.74h-10.00M1304.2 845.81h-10.00M1304.2 901.87h-10.00" stroke="#000" stroke-width="2.22" fill="none"/>
<rect x="2216.0" y="31.4" width="43.1" height="897" fill="url(#cw)"/>
<text x="2281.9" y="861.59" font-size="27.78">−0.002</text>
<text x="2281.9" y="691.2" font-size="27.78">−0.001</text>
<text x="2281.9" y="520.81" font-size="27.78">0.000</text>
<text x="2281.9" y="350.41" font-size="27.78">0.001</text>
<text x="2281.9" y="180.02" font-size="27.78">0.002</text>
<path d="M2259.1 852.19h11.50M2259.1 681.8h11.50M2259.1 511.41h11.50M2259.1 341.01h11.50M2259.1 170.62h11.50" stroke="#000" stroke-width="2.22" fill="none"/>
<text transform="translate(2418.3 482.9) rotate(-90)" font-size="27.78" text-anchor="middle">Value</text>
</g>
<g id="hist1">
<clipPath id="clip1"><rect x="153.6" y="1050.3" width="1070.8000000000002" height="897.0"/></clipPath>
<g clip-path="url(#clip1)">
<path d="M202.77 1947.3V1904.59H222.24V1947.3ZM222.24 1947.3V1904.59H241.71V1947.3ZM241.71 1947.3V1904.59H261.18V1947.3ZM261.18 1947.3V1904.59H280.65V1947.3ZM300.12 1947.3V1861.87H319.59V1947.3ZM339.06 1947.3V1861.87H358.53V1947.3ZM358.53 1947.3V1904.59H377.99V1947.3ZM377.99 1947.3V1733.73H397.46V1947.3ZM397.46 1947.3V1776.44H416.93V1947.3ZM436.4 1947.3V1776.44H455.87V1947.3ZM455.87 1947.3V1819.16H475.34V1947.3ZM475.34 1947.3V1776.44H494.81V1947.3ZM494.81 1947.3V1093.01H514.28V1947.3ZM514.28 1947.3V1392.01H533.75V1947.3ZM533.75 1947.3V1477.44H553.22V1947.3ZM553.22 1947.3V1434.73H572.69V1947.3ZM572.69 1947.3V1605.59H592.15V1947.3ZM592.15 1947.3V1306.59H611.62V1947.3ZM611.62 1947.3V1306.59H631.09V1947.3ZM631.09 1947.3V1349.3H650.56V1947.3ZM650.56 1947.3V1520.16H670.03V1947.3ZM670.03 1947.3V1349.3H689.5V1947.3ZM689.5 1947.3V1648.3H708.97V1947.3ZM708.97 1947.3V1477.44H728.44V1947.3ZM728.44 1947.3V1392.01H747.91V1947.3ZM747.91 1947.3V1605.59H767.38V1947.3ZM767.38 1947.3V1819.16H786.85V1947.3ZM786.85 1947.3V1648.3H806.31V1947.3ZM806.31 1947.3V1605.59H825.78V1947.3ZM825.78 1947.3V1605.59H845.25V1947.3ZM845.25 1947.3V1691.01H864.72V1947.3ZM864.72 1947.3V1733.73H884.19V1947.3ZM884.19 1947.3V1861.87H903.66V1947.3ZM903.66 1947.3V1776.44H923.13V1947.3ZM923.13 1947.3V1861.87H942.6V1947.3ZM942.6 1947.3V1776.44H962.07V1947.3ZM962.07 1947.3V1904.59H981.54V1947.3ZM981.54 1947.3V1861.87H1001.01V1947.3ZM1001.01 1947.3V1861.87H1020.47V1947.3ZM1039.94 1947.3V1904.59H1059.41V1947.3ZM1156.76 1947.3V1904.59H1176.23V1947.3Z" fill="#0000ff" fill-opacity="0.7" stroke="#000" stroke-width="1.8" stroke-linejoin="miter"/>
<polyline points="202.77,1926.47 207.66,1925 212.56,1923.55 217.45,1922.1 222.34,1920.68 227.23,1919.27 232.12,1917.9 237.01,1916.54 241.91,1915.21 246.8,1913.91 251.69,1912.61 256.58,1911.32 261.47,1910.02 266.37,1908.7 271.26,1907.34 276.15,1905.94 281.04,1904.46 285.93,1902.9 290.82,1901.23 295.72,1899.44 300.61,1897.51 305.5,1895.43 310.39,1893.18 315.28,1890.76 320.17,1888.15 325.07,1885.36 329.96,1882.37 334.85,1879.18 339.74,1875.8 344.63,1872.23 349.52,1868.45 354.42,1864.48 359.31,1860.3 364.2,1855.9 369.09,1851.27 373.98,1846.39 378.88,1841.24 383.77,1835.77 388.66,1829.94 393.55,1823.72 398.44,1817.04 403.33,1809.85 408.23,1802.1 413.12,1793.73 418.01,1784.69 422.9,1774.93 427.79,1764.44 432.68,1753.19 437.58,1741.19 442.47,1728.44 447.36,1715 452.25,1700.91 457.14,1686.27 462.03,1671.17 466.93,1655.73 471.82,1640.07 476.71,1624.34 481.6,1608.68 486.49,1593.23 491.38,1578.13 496.28,1563.51 501.17,1549.49 506.06,1536.16 510.95,1523.6 515.84,1511.86 520.74,1500.98 525.63,1490.97 530.52,1481.82 535.41,1473.5 540.3,1465.98 545.19,1459.21 550.09,1453.12 554.98,1447.67 559.87,1442.8 564.76,1438.45 569.65,1434.59 574.54,1431.18 579.44,1428.2 584.33,1425.62 589.22,1423.46 594.11,1421.71 599,1420.38 603.89,1419.48 608.79,1419.02 613.68,1419.02 618.57,1419.49 623.46,1420.43 628.35,1421.85 633.25,1423.75 638.14,1426.11 643.03,1428.94 647.92,1432.21 652.81,1435.92 657.7,1440.05 662.6,1444.58 667.49,1449.5 672.38,1454.8 677.27,1460.48 682.16,1466.51 687.05,1472.9 691.95,1479.63 696.84,1486.69 701.73,1494.05 706.62,1501.71 711.51,1509.63 716.4,1517.77 721.3,1526.09 726.19,1534.55 731.08,1543.08 735.97,1551.63 740.86,1560.14 745.75,1568.54 750.65,1576.78 755.54,1584.81 760.43,1592.59 765.32,1600.09 770.21,1607.29 775.11,1614.19 780,1620.79 784.89,1627.13 789.78,1633.24 794.67,1639.18 799.56,1644.99 804.46,1650.74 809.35,1656.48 814.24,1662.3 819.13,1668.23 824.02,1674.32 828.91,1680.62 833.81,1687.14 838.7,1693.9 843.59,1700.89 848.48,1708.1 853.37,1715.49 858.26,1723.03 863.16,1730.67 868.05,1738.35 872.94,1746.01 877.83,1753.6 882.72,1761.06 887.62,1768.35 892.51,1775.41 897.4,1782.21 902.29,1788.73 907.18,1794.95 912.07,1800.86 916.97,1806.47 921.86,1811.79 926.75,1816.83 931.64,1821.63 936.53,1826.21 941.42,1830.61 946.32,1834.85 951.21,1838.98 956.1,1843.01 960.99,1846.99 965.88,1850.93 970.77,1854.85 975.67,1858.78 980.56,1862.71 985.45,1866.65 990.34,1870.61 995.23,1874.58 1000.12,1878.55 1005.02,1882.51 1009.91,1886.44 1014.8,1890.33 1019.69,1894.16 1024.58,1897.91 1029.48,1901.57 1034.37,1905.12 1039.26,1908.53 1044.15,1911.8 1049.04,1914.91 1053.93,1917.85 1058.83,1920.61 1063.72,1923.17 1068.61,1925.54 1073.5,1927.72 1078.39,1929.69 1083.28,1931.46 1088.18,1933.04 1093.07,1934.42 1097.96,1935.63 1102.85,1936.65 1107.74,1937.52 1112.63,1938.23 1117.53,1938.81 1122.42,1939.26 1127.31,1939.61 1132.2,1939.86 1137.09,1940.04 1141.99,1940.16 1146.88,1940.24 1151.77,1940.29 1156.66,1940.33 1161.55,1940.36 1166.44,1940.41 1171.34,1940.47 1176.23,1940.56" fill="none" stroke="#0000ff" stroke-width="3.6" stroke-linejoin="round" stroke-linecap="square"/>
<path d="M649.8 1947.3V1050.3" stroke="#ff0000" stroke-width="2.78" stroke-dasharray="10.28,4.44" stroke-dashoffset="1.4" fill="none"/>
<path d="M490.6 1947.3V1050.3" stroke="#008000" stroke-width="2.78" stroke-dasharray="10.28,4.44" stroke-dashoffset="1.4" fill="none"/>
<path d="M808.9 1947.3V1050.3" stroke="#008000" stroke-width="2.78" stroke-dasharray="10.28,4.44" stroke-dashoffset="1.4" fill="none"/>
</g>
<rect x="153.6" y="1050.3" width="1070.8" height="897" fill="none" stroke="#000" stroke-width="2.22" stroke-linejoin="miter"/>
<text x="166.71" y="1987.9" font-size="27.78" text-anchor="middle">−3</text>
<text x="327.91" y="1987.9" font-size="27.78" text-anchor="middle">−2</text>
<text x="489.1" y="1987.9" font-size="27.78" text-anchor="middle">−1</text>
<text x="650.3" y="1987.9" font-size="27.78" text-anchor="middle">0</text>
<text x="811.49" y="1987.9" font-size="27.78" text-anchor="middle">1</text>
<text x="972.69" y="1987.9" font-size="27.78" text-anchor="middle">2</text>
<text x="1133.88" y="1987.9" font-size="27.78" text-anchor="middle">3</text>
<text x="131.5" y="1956.7" font-size="27.78" text-anchor="end">0.0</text>
<text x="131.5" y="1849.91" font-size="27.78" text-anchor="end">2.5</text>
<text x="131.5" y="1743.13" font-size="27.78" text-anchor="end">5.0</text>
<text x="131.5" y="1636.34" font-size="27.78" text-anchor="end">7.5</text>
<text x="131.5" y="1529.56" font-size="27.78" text-anchor="end">10.0</text>
<text x="131.5" y="1422.77" font-size="27.78" text-anchor="end">12.5</text>
<text x="131.5" y="1315.99" font-size="27.78" text-anchor="end">15.0</text>
<text x="131.5" y="1209.2" font-size="27.78" text-anchor="end">17.5</text>
<text x="131.5" y="1102.41" font-size="27.78" text-anchor="end">20.0</text>
<path d="M165.21 1947.3v10.80M326.41 1947.3v10.80M487.6 1947.3v10.80M648.8 1947.3v10.80M809.99 1947.3v10.80M971.19 1947.3v10.80M1132.38 1947.3v10.80M153.6 1947.3h-10.80M153.6 1840.51h-10.80M153.6 1733.73h-10.80M153.6 1626.94h-10.80M153.6 1520.16h-10.80M153.6 1413.37h-10.80M153.6 1306.59h-10.80M153.6 1199.8h-10.80M153.6 1093.01h-10.80" stroke="#000" stroke-width="2.22" fill="none"/>
<text x="689" y="2029.3" font-size="27.78" text-anchor="middle">W</text>
<text transform="translate(51.2 1504.3) rotate(-90)" font-size="27.78" text-anchor="middle">Frequency</text>
</g>
<g id="heat1">
<rect x="1304.2" y="1050.3" width="54.02" height="56.46" fill="#dcdddd"/>
<rect x="1357.82" y="1050.3" width="54.02" height="56.46" fill="#c6d6f1"/>
<rect x="1411.44" y="1050.3" width="54.02" height="56.46" fill="#98b9ff"/>
<rect x="1465.06" y="1050.3" width="54.02" height="56.46" fill="#a9c6fd"/>
<rect x="1518.67" y="1050.3" width="54.02" height="56.46" fill="#c1d4f4"/>
<rect x="1572.29" y="1050.3" width="54.02" height="56.46" fill="#e7d7ce"/>
<rect x="1625.91" y="1050.3" width="54.02" height="56.46" fill="#f6a385"/>
<rect x="1679.53" y="1050.3" width="54.02" height="56.46" fill="#a1c0ff"/>
<rect x="1733.15" y="1050.3" width="54.02" height="56.46" fill="#b9d0f9"/>
<rect x="1786.77" y="1050.3" width="54.02" height="56.46" fill="#b1cbfc"/>
<rect x="1840.39" y="1050.3" width="54.02" height="56.46" fill="#ccd9ed"/>
<rect x="1894.01" y="1050.3" width="54.02" height="56.46" fill="#cbd8ee"/>
<rect x="1947.62" y="1050.3" width="54.02" height="56.46" fill="#9abbff"/>
<rect x="2001.24" y="1050.3" width="54.02" height="56.46" fill="#d9dce1"/>
<rect x="2054.86" y="1050.3" width="54.02" height="56.46" fill="#dfdbd9"/>
<rect x="2108.48" y="1050.3" width="54.02" height="56.46" fill="#779af7"/>
<rect x="1304.2" y="1106.36" width="54.02" height="56.46" fill="#b3cdfb"/>
<rect x="1357.82" y="1106.36" width="54.02" height="56.46" fill="#e7d7ce"/>
<rect x="1411.44" y="1106.36" width="54.02" height="56.46" fill="#e2dad5"/>
<rect x="1465.06" y="1106.36" width="54.02" height="56.46" fill="#e9d5cb"/>
<rect x="1518.67" y="1106.36" width="54.02" height="56.46" fill="#cedaeb"/>
<rect x="1572.29" y="1106.36" width="54.02" height="56.46" fill="#f2c9b4"/>
<rect x="1625.91" y="1106.36" width="54.02" height="56.46" fill="#f3c8b2"/>
<rect x="1679.53" y="1106.36" width="54.02" height="56.46" fill="#9fbfff"/>
<rect x="1733.15" y="1106.36" width="54.02" height="56.46" fill="#e2dad5"/>
<rect x="1786.77" y="1106.36" width="54.02" height="56.46" fill="#b2ccfb"/>
<rect x="1840.39" y="1106.36" width="54.02" height="56.46" fill="#dadce0"/>
<rect x="1894.01" y="1106.36" width="54.02" height="56.46" fill="#bcd2f7"/>
<rect x="1947.62" y="1106.36" width="54.02" height="56.46" fill="#81a4fb"/>
<rect x="2001.24" y="1106.36" width="54.02" height="56.46" fill="#b9d0f9"/>
<rect x="2054.86" y="1106.36" width="54.02" height="56.46" fill="#cedaeb"/>
<rect x="2108.48" y="1106.36" width="54.02" height="56.46" fill="#b6cefa"/>
<rect x="1304.2" y="1162.42" width="54.02" height="56.46" fill="#d7dce3"/>
<rect x="1357.82" y="1162.42" width="54.02" height="56.46" fill="#b3cdfb"/>
<rect x="1411.44" y="1162.42" width="54.02" height="56.46" fill="#c6d6f1"/>
<rect x="1465.06" y="1162.42" width="54.02" height="56.46" fill="#d8dce2"/>
<rect x="1518.67" y="1162.42" width="54.02" height="56.46" fill="#b7cff9"/>
<rect x="1572.29" y="1162.42" width="54.02" height="56.46" fill="#e2dad5"/>
<rect x="1625.91" y="1162.42" width="54.02" height="56.46" fill="#f1cdba"/>
<rect x="1679.53" y="1162.42" width="54.02" height="56.46" fill="#c5d6f2"/>
<rect x="1733.15" y="1162.42" width="54.02" height="56.46" fill="#ccd9ed"/>
<rect x="1786.77" y="1162.42" width="54.02" height="56.46" fill="#f5c4ac"/>
<rect x="1840.39" y="1162.42" width="54.02" height="56.46" fill="#bed2f6"/>
<rect x="1894.01" y="1162.42" width="54.02" height="56.46" fill="#9bbcff"/>
<rect x="1947.62" y="1162.42" width="54.02" height="56.46" fill="#dddcdc"/>
<rect x="2001.24" y="1162.42" width="54.02" height="56.46" fill="#f5c2aa"/>
<rect x="2054.86" y="1162.42" width="54.02" height="56.46" fill="#cfdaea"/>
<rect x="2108.48" y="1162.42" width="54.02" height="56.46" fill="#e3d9d3"/>
<rect x="1304.2" y="1218.49" width="54.02" height="56.46" fill="#9fbfff"/>
<rect x="1357.82" y="1218.49" width="54.02" height="56.46" fill="#c6d6f1"/>
<rect x="1411.44" y="1218.49" width="54.02" height="56.46" fill="#d2dbe8"/>
<rect x="1465.06" y="1218.49" width="54.02" height="56.46" fill="#e3d9d3"/>
<rect x="1518.67" y="1218.49" width="54.02" height="56.46" fill="#c1d4f4"/>
<rect x="1572.29" y="1218.49" width="54.02" height="56.46" fill="#f6bfa6"/>
<rect x="1625.91" y="1218.49" width="54.02" height="56.46" fill="#a9c6fd"/>
<rect x="1679.53" y="1218.49" width="54.02" height="56.46" fill="#eed0c0"/>
<rect x="1733.15" y="1218.49" width="54.02" height="56.46" fill="#ccd9ed"/>
<rect x="1786.77" y="1218.49" width="54.02" height="56.46" fill="#a1c0ff"/>
<rect x="1840.39" y="1218.49" width="54.02" height="56.46" fill="#d3dbe7"/>
<rect x="1894.01" y="1218.49" width="54.02" height="56.46" fill="#d3dbe7"/>
<rect x="1947.62" y="1218.49" width="54.02" height="56.46" fill="#d4dbe6"/>
<rect x="2001.24" y="1218.49" width="54.02" height="56.46" fill="#c0d4f5"/>
<rect x="2054.86" y="1218.49" width="54.02" height="56.46" fill="#adc9fd"/>
<rect x="2108.48" y="1218.49" width="54.02" height="56.46" fill="#ebd3c6"/>
<rect x="1304.2" y="1274.55" width="54.02" height="56.46" fill="#c5d6f2"/>
<rect x="1357.82" y="1274.55" width="54.02" height="56.46" fill="#c6d6f1"/>
<rect x="1411.44" y="1274.55" width="54.02" height="56.46" fill="#c6d6f1"/>
<rect x="1465.06" y="1274.55" width="54.02" height="56.46" fill="#a1c0ff"/>
<rect x="1518.67" y="1274.55" width="54.02" height="56.46" fill="#b5cdfa"/>
<rect x="1572.29" y="1274.55" width="54.02" height="56.46" fill="#e0dbd8"/>
<rect x="1625.91" y="1274.55" width="54.02" height="56.46" fill="#e1dad6"/>
<rect x="1679.53" y="1274.55" width="54.02" height="56.46" fill="#96b7ff"/>
<rect x="1733.15" y="1274.55" width="54.02" height="56.46" fill="#f3c7b1"/>
<rect x="1786.77" y="1274.55" width="54.02" height="56.46" fill="#c7d7f0"/>
<rect x="1840.39" y="1274.55" width="54.02" height="56.46" fill="#ebd3c6"/>
<rect x="1894.01" y="1274.55" width="54.02" height="56.46" fill="#a1c0ff"/>
<rect x="1947.62" y="1274.55" width="54.02" height="56.46" fill="#d8dce2"/>
<rect x="2001.24" y="1274.55" width="54.02" height="56.46" fill="#e4d9d2"/>
<rect x="2054.86" y="1274.55" width="54.02" height="56.46" fill="#e9d5cb"/>
<rect x="2108.48" y="1274.55" width="54.02" height="56.46" fill="#c7d7f0"/>
<rect x="1304.2" y="1330.61" width="54.02" height="56.46" fill="#c1d4f4"/>
<rect x="1357.82" y="1330.61" width="54.02" height="56.46" fill="#7597f6"/>
<rect x="1411.44" y="1330.61" width="54.02" height="56.46" fill="#df634e"/>
<rect x="1465.06" y="1330.61" width="54.02" height="56.46" fill="#f6bfa6"/>
<rect x="1518.67" y="1330.61" width="54.02" height="56.46" fill="#a2c1ff"/>
<rect x="1572.29" y="1330.61" width="54.02" height="56.46" fill="#c3d5f4"/>
<rect x="1625.91" y="1330.61" width="54.02" height="56.46" fill="#445acc"/>
<rect x="1679.53" y="1330.61" width="54.02" height="56.46" fill="#e2dad5"/>
<rect x="1733.15" y="1330.61" width="54.02" height="56.46" fill="#ecd3c5"/>
<rect x="1786.77" y="1330.61" width="54.02" height="56.46" fill="#9dbdff"/>
<rect x="1840.39" y="1330.61" width="54.02" height="56.46" fill="#f29274"/>
<rect x="1894.01" y="1330.61" width="54.02" height="56.46" fill="#adc9fd"/>
<rect x="1947.62" y="1330.61" width="54.02" height="56.46" fill="#f6bea4"/>
<rect x="2001.24" y="1330.61" width="54.02" height="56.46" fill="#89acfd"/>
<rect x="2054.86" y="1330.61" width="54.02" height="56.46" fill="#cfdaea"/>
<rect x="2108.48" y="1330.61" width="54.02" height="56.46" fill="#b40426"/>
<rect x="1304.2" y="1386.67" width="54.02" height="56.46" fill="#e2dad5"/>
<rect x="1357.82" y="1386.67" width="54.02" height="56.46" fill="#f39778"/>
<rect x="1411.44" y="1386.67" width="54.02" height="56.46" fill="#a2c1ff"/>
<rect x="1465.06" y="1386.67" width="54.02" height="56.46" fill="#a2c1ff"/>
<rect x="1518.67" y="1386.67" width="54.02" height="56.46" fill="#f4c6af"/>
<rect x="1572.29" y="1386.67" width="54.02" height="56.46" fill="#aec9fc"/>
<rect x="1625.91" y="1386.67" width="54.02" height="56.46" fill="#d4dbe6"/>
<rect x="1679.53" y="1386.67" width="54.02" height="56.46" fill="#f7b79b"/>
<rect x="1733.15" y="1386.67" width="54.02" height="56.46" fill="#dddcdc"/>
<rect x="1786.77" y="1386.67" width="54.02" height="56.46" fill="#f5c0a7"/>
<rect x="1840.39" y="1386.67" width="54.02" height="56.46" fill="#92b4fe"/>
<rect x="1894.01" y="1386.67" width="54.02" height="56.46" fill="#f4c5ad"/>
<rect x="1947.62" y="1386.67" width="54.02" height="56.46" fill="#a9c6fd"/>
<rect x="2001.24" y="1386.67" width="54.02" height="56.46" fill="#f7b093"/>
<rect x="2054.86" y="1386.67" width="54.02" height="56.46" fill="#e7d7ce"/>
<rect x="2108.48" y="1386.67" width="54.02" height="56.46" fill="#bad0f8"/>
<rect x="1304.2" y="1442.74" width="54.02" height="56.46" fill="#cad8ef"/>
<rect x="1357.82" y="1442.74" width="54.02" height="56.46" fill="#8badfd"/>
<rect x="1411.44" y="1442.74" width="54.02" height="56.46" fill="#f4c6af"/>
<rect x="1465.06" y="1442.74" width="54.02" height="56.46" fill="#9ebeff"/>
<rect x="1518.67" y="1442.74" width="54.02" height="56.46" fill="#ecd3c5"/>
<rect x="1572.29" y="1442.74" width="54.02" height="56.46" fill="#f29072"/>
<rect x="1625.91" y="1442.74" width="54.02" height="56.46" fill="#f7ac8e"/>
<rect x="1679.53" y="1442.74" width="54.02" height="56.46" fill="#e2dad5"/>
<rect x="1733.15" y="1442.74" width="54.02" height="56.46" fill="#b5cdfa"/>
<rect x="1786.77" y="1442.74" width="54.02" height="56.46" fill="#bed2f6"/>
<rect x="1840.39" y="1442.74" width="54.02" height="56.46" fill="#f6bea4"/>
<rect x="1894.01" y="1442.74" width="54.02" height="56.46" fill="#a6c4fe"/>
<rect x="1947.62" y="1442.74" width="54.02" height="56.46" fill="#cfdaea"/>
<rect x="2001.24" y="1442.74" width="54.02" height="56.46" fill="#c7d7f0"/>
<rect x="2054.86" y="1442.74" width="54.02" height="56.46" fill="#9ebeff"/>
<rect x="2108.48" y="1442.74" width="54.02" height="56.46" fill="#5b7ae5"/>
<rect x="1304.2" y="1498.8" width="54.02" height="56.46" fill="#799cf8"/>
<rect x="1357.82" y="1498.8" width="54.02" height="56.46" fill="#7a9df8"/>
<rect x="1411.44" y="1498.8" width="54.02" height="56.46" fill="#e97a5f"/>
<rect x="1465.06" y="1498.8" width="54.02" height="56.46" fill="#f6a283"/>
<rect x="1518.67" y="1498.8" width="54.02" height="56.46" fill="#bbd1f8"/>
<rect x="1572.29" y="1498.8" width="54.02" height="56.46" fill="#f59f80"/>
<rect x="1625.91" y="1498.8" width="54.02" height="56.46" fill="#d9dce1"/>
<rect x="1679.53" y="1498.8" width="54.02" height="56.46" fill="#a2c1ff"/>
<rect x="1733.15" y="1498.8" width="54.02" height="56.46" fill="#edd2c3"/>
<rect x="1786.77" y="1498.8" width="54.02" height="56.46" fill="#4f69d9"/>
<rect x="1840.39" y="1498.8" width="54.02" height="56.46" fill="#f6bda2"/>
<rect x="1894.01" y="1498.8" width="54.02" height="56.46" fill="#7093f3"/>
<rect x="1947.62" y="1498.8" width="54.02" height="56.46" fill="#aec9fc"/>
<rect x="2001.24" y="1498.8" width="54.02" height="56.46" fill="#4961d2"/>
<rect x="2054.86" y="1498.8" width="54.02" height="56.46" fill="#c3d5f4"/>
<rect x="2108.48" y="1498.8" width="54.02" height="56.46" fill="#c4d5f3"/>
<rect x="1304.2" y="1554.86" width="54.02" height="56.46" fill="#aec9fc"/>
<rect x="1357.82" y="1554.86" width="54.02" height="56.46" fill="#f7b99e"/>
<rect x="1411.44" y="1554.86" width="54.02" height="56.46" fill="#b7cff9"/>
<rect x="1465.06" y="1554.86" width="54.02" height="56.46" fill="#c9d7f0"/>
<rect x="1518.67" y="1554.86" width="54.02" height="56.46" fill="#d1dae9"/>
<rect x="1572.29" y="1554.86" width="54.02" height="56.46" fill="#f5c0a7"/>
<rect x="1625.91" y="1554.86" width="54.02" height="56.46" fill="#c0d4f5"/>
<rect x="1679.53" y="1554.86" width="54.02" height="56.46" fill="#dadce0"/>
<rect x="1733.15" y="1554.86" width="54.02" height="56.46" fill="#ccd9ed"/>
<rect x="1786.77" y="1554.86" width="54.02" height="56.46" fill="#a6c4fe"/>
<rect x="1840.39" y="1554.86" width="54.02" height="56.46" fill="#a6c4fe"/>
<rect x="1894.01" y="1554.86" width="54.02" height="56.46" fill="#e9d5cb"/>
<rect x="1947.62" y="1554.86" width="54.02" height="56.46" fill="#b6cefa"/>
<rect x="2001.24" y="1554.86" width="54.02" height="56.46" fill="#f2cab5"/>
<rect x="2054.86" y="1554.86" width="54.02" height="56.46" fill="#e4d9d2"/>
<rect x="2108.48" y="1554.86" width="54.02" height="56.46" fill="#a6c4fe"/>
<rect x="1304.2" y="1610.92" width="54.02" height="56.46" fill="#9ebeff"/>
<rect x="1357.82" y="1610.92" width="54.02" height="56.46" fill="#eb7d62"/>
<rect x="1411.44" y="1610.92" width="54.02" height="56.46" fill="#afcafc"/>
<rect x="1465.06" y="1610.92" width="54.02" height="56.46" fill="#f7b99e"/>
<rect x="1518.67" y="1610.92" width="54.02" height="56.46" fill="#e5d8d1"/>
<rect x="1572.29" y="1610.92" width="54.02" height="56.46" fill="#bfd3f6"/>
<rect x="1625.91" y="1610.92" width="54.02" height="56.46" fill="#6687ed"/>
<rect x="1679.53" y="1610.92" width="54.02" height="56.46" fill="#e7d7ce"/>
<rect x="1733.15" y="1610.92" width="54.02" height="56.46" fill="#f18f71"/>
<rect x="1786.77" y="1610.92" width="54.02" height="56.46" fill="#f7b396"/>
<rect x="1840.39" y="1610.92" width="54.02" height="56.46" fill="#7699f6"/>
<rect x="1894.01" y="1610.92" width="54.02" height="56.46" fill="#f5c1a9"/>
<rect x="1947.62" y="1610.92" width="54.02" height="56.46" fill="#f7b396"/>
<rect x="2001.24" y="1610.92" width="54.02" height="56.46" fill="#e8765c"/>
<rect x="2054.86" y="1610.92" width="54.02" height="56.46" fill="#f5c1a9"/>
<rect x="2108.48" y="1610.92" width="54.02" height="56.46" fill="#f7b396"/>
<rect x="1304.2" y="1666.99" width="54.02" height="56.46" fill="#dadce0"/>
<rect x="1357.82" y="1666.99" width="54.02" height="56.46" fill="#edd2c3"/>
<rect x="1411.44" y="1666.99" width="54.02" height="56.46" fill="#afcafc"/>
<rect x="1465.06" y="1666.99" width="54.02" height="56.46" fill="#bcd2f7"/>
<rect x="1518.67" y="1666.99" width="54.02" height="56.46" fill="#c0d4f5"/>
<rect x="1572.29" y="1666.99" width="54.02" height="56.46" fill="#d9dce1"/>
<rect x="1625.91" y="1666.99" width="54.02" height="56.46" fill="#e7d7ce"/>
<rect x="1679.53" y="1666.99" width="54.02" height="56.46" fill="#c5d6f2"/>
<rect x="1733.15" y="1666.99" width="54.02" height="56.46" fill="#8db0fe"/>
<rect x="1786.77" y="1666.99" width="54.02" height="56.46" fill="#d5dbe5"/>
<rect x="1840.39" y="1666.99" width="54.02" height="56.46" fill="#f1ccb8"/>
<rect x="1894.01" y="1666.99" width="54.02" height="56.46" fill="#cad8ef"/>
<rect x="1947.62" y="1666.99" width="54.02" height="56.46" fill="#f2c9b4"/>
<rect x="2001.24" y="1666.99" width="54.02" height="56.46" fill="#d1dae9"/>
<rect x="2054.86" y="1666.99" width="54.02" height="56.46" fill="#f4c6af"/>
<rect x="2108.48" y="1666.99" width="54.02" height="56.46" fill="#a3c2fe"/>
<rect x="1304.2" y="1723.05" width="54.02" height="56.46" fill="#c4d5f3"/>
<rect x="1357.82" y="1723.05" width="54.02" height="56.46" fill="#8fb1fe"/>
<rect x="1411.44" y="1723.05" width="54.02" height="56.46" fill="#93b5fe"/>
<rect x="1465.06" y="1723.05" width="54.02" height="56.46" fill="#dbdcde"/>
<rect x="1518.67" y="1723.05" width="54.02" height="56.46" fill="#a3c2fe"/>
<rect x="1572.29" y="1723.05" width="54.02" height="56.46" fill="#f7b99e"/>
<rect x="1625.91" y="1723.05" width="54.02" height="56.46" fill="#dedcdb"/>
<rect x="1679.53" y="1723.05" width="54.02" height="56.46" fill="#cdd9ec"/>
<rect x="1733.15" y="1723.05" width="54.02" height="56.46" fill="#dfdbd9"/>
<rect x="1786.77" y="1723.05" width="54.02" height="56.46" fill="#aac7fd"/>
<rect x="1840.39" y="1723.05" width="54.02" height="56.46" fill="#f7b99e"/>
<rect x="1894.01" y="1723.05" width="54.02" height="56.46" fill="#a3c2fe"/>
<rect x="1947.62" y="1723.05" width="54.02" height="56.46" fill="#dbdcde"/>
<rect x="2001.24" y="1723.05" width="54.02" height="56.46" fill="#cdd9ec"/>
<rect x="2054.86" y="1723.05" width="54.02" height="56.46" fill="#c0d4f5"/>
<rect x="2108.48" y="1723.05" width="54.02" height="56.46" fill="#e7d7ce"/>
<rect x="1304.2" y="1779.11" width="54.02" height="56.46" fill="#e8d6cc"/>
<rect x="1357.82" y="1779.11" width="54.02" height="56.46" fill="#80a3fa"/>
<rect x="1411.44" y="1779.11" width="54.02" height="56.46" fill="#5977e3"/>
<rect x="1465.06" y="1779.11" width="54.02" height="56.46" fill="#dcdddd"/>
<rect x="1518.67" y="1779.11" width="54.02" height="56.46" fill="#dcdddd"/>
<rect x="1572.29" y="1779.11" width="54.02" height="56.46" fill="#dcdddd"/>
<rect x="1625.91" y="1779.11" width="54.02" height="56.46" fill="#f7b89c"/>
<rect x="1679.53" y="1779.11" width="54.02" height="56.46" fill="#edd1c2"/>
<rect x="1733.15" y="1779.11" width="54.02" height="56.46" fill="#a3c2fe"/>
<rect x="1786.77" y="1779.11" width="54.02" height="56.46" fill="#b3cdfb"/>
<rect x="1840.39" y="1779.11" width="54.02" height="56.46" fill="#d5dbe5"/>
<rect x="1894.01" y="1779.11" width="54.02" height="56.46" fill="#aac7fd"/>
<rect x="1947.62" y="1779.11" width="54.02" height="56.46" fill="#7da0f9"/>
<rect x="2001.24" y="1779.11" width="54.02" height="56.46" fill="#7ea1fa"/>
<rect x="2054.86" y="1779.11" width="54.02" height="56.46" fill="#b7cff9"/>
<rect x="2108.48" y="1779.11" width="54.02" height="56.46" fill="#aac7fd"/>
<rect x="1304.2" y="1835.17" width="54.02" height="56.46" fill="#f5c4ac"/>
<rect x="1357.82" y="1835.17" width="54.02" height="56.46" fill="#f59d7e"/>
<rect x="1411.44" y="1835.17" width="54.02" height="56.46" fill="#a7c5fe"/>
<rect x="1465.06" y="1835.17" width="54.02" height="56.46" fill="#a7c5fe"/>
<rect x="1518.67" y="1835.17" width="54.02" height="56.46" fill="#e7d7ce"/>
<rect x="1572.29" y="1835.17" width="54.02" height="56.46" fill="#b1cbfc"/>
<rect x="1625.91" y="1835.17" width="54.02" height="56.46" fill="#f5c0a7"/>
<rect x="1679.53" y="1835.17" width="54.02" height="56.46" fill="#cad8ef"/>
<rect x="1733.15" y="1835.17" width="54.02" height="56.46" fill="#c9d7f0"/>
<rect x="1786.77" y="1835.17" width="54.02" height="56.46" fill="#f7a889"/>
<rect x="1840.39" y="1835.17" width="54.02" height="56.46" fill="#9fbfff"/>
<rect x="1894.01" y="1835.17" width="54.02" height="56.46" fill="#e8d6cc"/>
<rect x="1947.62" y="1835.17" width="54.02" height="56.46" fill="#adc9fd"/>
<rect x="2001.24" y="1835.17" width="54.02" height="56.46" fill="#f49a7b"/>
<rect x="2054.86" y="1835.17" width="54.02" height="56.46" fill="#cdd9ec"/>
<rect x="2108.48" y="1835.17" width="54.02" height="56.46" fill="#9fbfff"/>
<rect x="1304.2" y="1891.24" width="54.02" height="56.46" fill="#6a8bef"/>
<rect x="1357.82" y="1891.24" width="54.02" height="56.46" fill="#ed8366"/>
<rect x="1411.44" y="1891.24" width="54.02" height="56.46" fill="#c9d7f0"/>
<rect x="1465.06" y="1891.24" width="54.02" height="56.46" fill="#ef886b"/>
<rect x="1518.67" y="1891.24" width="54.02" height="56.46" fill="#d6dce4"/>
<rect x="1572.29" y="1891.24" width="54.02" height="56.46" fill="#f18d6f"/>
<rect x="1625.91" y="1891.24" width="54.02" height="56.46" fill="#c4d5f3"/>
<rect x="1679.53" y="1891.24" width="54.02" height="56.46" fill="#f4c5ad"/>
<rect x="1733.15" y="1891.24" width="54.02" height="56.46" fill="#d6dce4"/>
<rect x="1786.77" y="1891.24" width="54.02" height="56.46" fill="#a5c3fe"/>
<rect x="1840.39" y="1891.24" width="54.02" height="56.46" fill="#3b4cc0"/>
<rect x="1894.01" y="1891.24" width="54.02" height="56.46" fill="#c6d6f1"/>
<rect x="1947.62" y="1891.24" width="54.02" height="56.46" fill="#a6c4fe"/>
<rect x="2001.24" y="1891.24" width="54.02" height="56.46" fill="#efcebd"/>
<rect x="2054.86" y="1891.24" width="54.02" height="56.46" fill="#f7b194"/>
<rect x="2108.48" y="1891.24" width="54.02" height="56.46" fill="#e8d6cc"/>
<text x="1332.11" y="1987.9" font-size="27.78" text-anchor="middle">0</text>
<text x="1385.73" y="1987.9" font-size="27.78" text-anchor="middle">1</text>
<text x="1439.35" y="1987.9" font-size="27.78" text-anchor="middle">2</text>
<text x="1492.97" y="1987.9" font-size="27.78" text-anchor="middle">3</text>
<text x="1546.58" y="1987.9" font-size="27.78" text-anchor="middle">4</text>
<text x="1600.2" y="1987.9" font-size="27.78" text-anchor="middle">5</text>
<text x="1653.82" y="1987.9" font-size="27.78" text-anchor="middle">6</text>
<text x="1707.44" y="1987.9" font-size="27.78" text-anchor="middle">7</text>
<text x="1761.06" y="1987.9" font-size="27.78" text-anchor="middle">8</text>
<text x="1814.68" y="1987.9" font-size="27.78" text-anchor="middle">9</text>
<text x="1868.3" y="1987.9" font-size="27.78" text-anchor="middle">10</text>
<text x="1921.92" y="1987.9" font-size="27.78" text-anchor="middle">11</text>
<text x="1975.53" y="1987.9" font-size="27.78" text-anchor="middle">12</text>
<text x="2029.15" y="1987.9" font-size="27.78" text-anchor="middle">13</text>
<text x="2082.77" y="1987.9" font-size="27.78" text-anchor="middle">14</text>
<text x="2136.39" y="1987.9" font-size="27.78" text-anchor="middle">15</text>
<text transform="translate(1277.4 1078.03) rotate(-90)" font-size="27.78" text-anchor="middle">0</text>
<text transform="translate(1277.4 1134.09) rotate(-90)" font-size="27.78" text-anchor="middle">1</text>
<text transform="translate(1277.4 1190.16) rotate(-90)" font-size="27.78" text-anchor="middle">2</text>
<text transform="translate(1277.4 1246.22) rotate(-90)" font-size="27.78" text-anchor="middle">3</text>
<text transform="translate(1277.4 1302.28) rotate(-90)" font-size="27.78" text-anchor="middle">4</text>
<text transform="translate(1277.4 1358.34) rotate(-90)" font-size="27.78" text-anchor="middle">5</text>
<text transform="translate(1277.4 1414.41) rotate(-90)" font-size="27.78" text-anchor="middle">6</text>
<text transform="translate(1277.4 1470.47) rotate(-90)" font-size="27.78" text-anchor="middle">7</text>
<text transform="translate(1277.4 1526.53) rotate(-90)" font-size="27.78" text-anchor="middle">8</text>
<text transform="translate(1277.4 1582.59) rotate(-90)" font-size="27.78" text-anchor="middle">9</text>
<text transform="translate(1277.4 1638.66) rotate(-90)" font-size="27.78" text-anchor="middle">10</text>
<text transform="translate(1277.4 1694.72) rotate(-90)" font-size="27.78" text-anchor="middle">11</text>
<text transform="translate(1277.4 1750.78) rotate(-90)" font-size="27.78" text-anchor="middle">12</text>
<text transform="translate(1277.4 1806.84) rotate(-90)" font-size="27.78" text-anchor="middle">13</text>
<text transform="translate(1277.4 1862.91) rotate(-90)" font-size="27.78" text-anchor="middle">14</text>
<text transform="translate(1277.4 1918.97) rotate(-90)" font-size="27.78" text-anchor="middle">15</text>
<path d="M1332.11 1947.3v10.80M1385.73 1947.3v10.80M1439.35 1947.3v10.80M1492.97 1947.3v10.80M1546.58 1947.3v10.80M1600.2 1947.3v10.80M1653.82 1947.3v10.80M1707.44 1947.3v10.80M1761.06 1947.3v10.80M1814.68 1947.3v10.80M1868.3 1947.3v10.80M1921.92 1947.3v10.80M1975.53 1947.3v10.80M2029.15 1947.3v10.80M2082.77 1947.3v10.80M2136.39 1947.3v10.80M1304.2 1077.83h-10.00M1304.2 1133.89h-10.00M1304.2 1189.96h-10.00M1304.2 1246.02h-10.00M1304.2 1302.08h-10.00M1304.2 1358.14h-10.00M1304.2 1414.21h-10.00M1304.2 1470.27h-10.00M1304.2 1526.33h-10.00M1304.2 1582.39h-10.00M1304.2 1638.46h-10.00M1304.2 1694.52h-10.00M1304.2 1750.58h-10.00M1304.2 1806.64h-10.00M1304.2 1862.71h-10.00M1304.2 1918.77h-10.00" stroke="#000" stroke-width="2.22" fill="none"/>
<rect x="2216.0" y="1050.3" width="43.1" height="897" fill="url(#cw)"/>
<text x="2281.9" y="1842.77" font-size="27.78">−2</text>
<text x="2281.9" y="1694.24" font-size="27.78">−1</text>
<text x="2281.9" y="1545.7" font-size="27.78">0</text>
<text x="2281.9" y="1397.17" font-size="27.78">1</text>
<text x="2281.9" y="1248.64" font-size="27.78">2</text>
<text x="2281.9" y="1100.1" font-size="27.78">3</text>
<path d="M2259.1 1833.37h11.50M2259.1 1684.84h11.50M2259.1 1536.3h11.50M2259.1 1387.77h11.50M2259.1 1239.24h11.50M2259.1 1090.7h11.50" stroke="#000" stroke-width="2.22" fill="none"/>
<text transform="translate(2353.9 1501.8) rotate(-90)" font-size="27.78" text-anchor="middle">Value</text>
</g>
<rect x="196.2" y="65.6" width="364.7" height="110.3" rx="10.5" ry="10.5" fill="#f5deb3" fill-opacity="0.5" stroke="#000" stroke-opacity="0.5" stroke-width="2.2"/>
<text transform="translate(0 107.3) scale(1 1.055)" font-size="34.44"><tspan x="207" y="0">M</tspan><tspan x="236.72" y="0">e</tspan><tspan x="257.91" y="0">a</tspan><tspan x="279.02" y="0">n</tspan><tspan x="300.85" y="0">:</tspan><tspan x="323.4" y="0">−</tspan><tspan x="352.26" y="0">3</tspan><tspan x="374.18" y="0">.</tspan><tspan x="385.13" y="0">5</tspan><tspan x="407.04" y="0">2</tspan><tspan x="435.67" y="0">×</tspan><tspan x="471.24" y="0">1</tspan><tspan x="493.15" y="0">0</tspan><tspan x="515.4" y="-13.99" font-size="24.11">−</tspan><tspan x="535.6" y="-13.99" font-size="24.11">5</tspan></text>
<text transform="translate(0 154.5) scale(1 1.055)" font-size="34.44"><tspan x="207" y="0">S</tspan><tspan x="228.86" y="0">t</tspan><tspan x="242.37" y="0">d</tspan><tspan x="264.23" y="0">:</tspan><tspan x="286.79" y="0">8</tspan><tspan x="308.7" y="0">.</tspan><tspan x="319.65" y="0">6</tspan><tspan x="341.57" y="0">3</tspan><tspan x="370.19" y="0">×</tspan><tspan x="405.76" y="0">1</tspan><tspan x="427.68" y="0">0</tspan><tspan x="449.92" y="-13.99" font-size="24.11">−</tspan><tspan x="470.12" y="-13.99" font-size="24.11">4</tspan></text>
<rect x="196.4" y="1083.8" width="352.1" height="104.7" rx="10.5" ry="10.5" fill="#f5deb3" fill-opacity="0.5" stroke="#000" stroke-opacity="0.5" stroke-width="2.2"/>
<text transform="translate(0 1124.2) scale(1 1.055)" font-size="34.44"><tspan x="207" y="0">M</tspan><tspan x="236.72" y="0">e</tspan><tspan x="257.91" y="0">a</tspan><tspan x="279.02" y="0">n</tspan><tspan x="300.85" y="0">:</tspan><tspan x="323.4" y="0">6</tspan><tspan x="345.32" y="0">.</tspan><tspan x="356.26" y="0">9</tspan><tspan x="378.18" y="0">4</tspan><tspan x="406.8" y="0">×</tspan><tspan x="442.38" y="0">1</tspan><tspan x="464.29" y="0">0</tspan><tspan x="486.53" y="-13.99" font-size="24.11">−</tspan><tspan x="506.74" y="-13.99" font-size="24.11">1</tspan><tspan x="522.08" y="-13.99" font-size="24.11">8</tspan></text>
<text transform="translate(208.0 1169.2) scale(0.986 1.055)" font-size="34.44">Std: 0.99</text>
</svg>
</body></html>
